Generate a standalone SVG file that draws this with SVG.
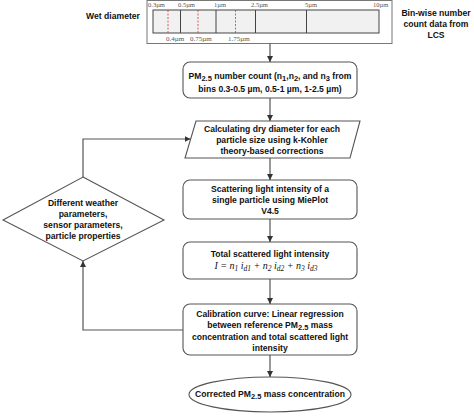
<svg xmlns="http://www.w3.org/2000/svg" width="474" height="418" viewBox="0 0 474 418">
<style>
.t{font-family:"Liberation Sans",Arial,sans-serif;font-weight:bold;font-size:8.6px;fill:#111;text-anchor:middle}
.s{font-size:7.5px}
.sc{font-family:"Liberation Serif","Times New Roman",serif;font-size:6.5px;fill:#555}
.box{fill:#fff;stroke:#555;stroke-width:1.1}
.ln{fill:none;stroke:#555;stroke-width:1.2}
.red{stroke:#d33;stroke-width:0.8;stroke-dasharray:2,1.5}
.f{font-family:"Liberation Serif","Times New Roman",serif;font-style:italic;font-weight:normal;font-size:10px;fill:#111;text-anchor:middle}
.fs{font-size:7.5px}
</style>
<defs>
<marker id="ah" markerUnits="userSpaceOnUse" markerWidth="6" markerHeight="6" refX="6" refY="3" orient="auto">
<path d="M0,0 L6,3 L0,6 z" fill="#333"/>
</marker>
</defs>
<rect width="474" height="418" fill="#fff"/>

<g id="bins">
<rect x="147" y="0.5" width="245" height="43" fill="#fff" stroke="#777" stroke-width="1"/>
<rect x="153" y="10" width="226" height="23" fill="#f1f1f1" stroke="#444" stroke-width="1"/>
<line x1="180.5" y1="10" x2="180.5" y2="33" stroke="#444"/>
<line x1="216" y1="10" x2="216" y2="33" stroke="#444"/>
<line x1="255.5" y1="10" x2="255.5" y2="33" stroke="#444"/>
<line x1="306.5" y1="10" x2="306.5" y2="33" stroke="#444"/>
<line class="red" x1="168" y1="10" x2="168" y2="33"/>
<line class="red" x1="198" y1="10" x2="198" y2="33"/>
<line class="red" x1="235.5" y1="10" x2="235.5" y2="33"/>
<text class="sc" x="148" y="7">0.3µm</text>
<text class="sc" x="178" y="7">0.5µm</text>
<text class="sc" x="214" y="7">1µm</text>
<text class="sc" x="251" y="7">2.5µm</text>
<text class="sc" x="305" y="7">5µm</text>
<text class="sc" x="373" y="7">10µm</text>
<text class="sc" x="166" y="41" style="font-size:7px">0.4µm</text>
<text class="sc" x="190" y="41" style="font-size:7px">0.75µm</text>
<text class="sc" x="228" y="41" style="font-size:7px">1.75µm</text>
</g>
<g id="wet"><text class="t" x="113" y="19">Wet diameter</text></g>
<g id="binwise">
<text class="t" x="436" y="16">Bin-wise number</text>
<text class="t" x="436" y="27">count data from</text>
<text class="t" x="436" y="38">LCS</text>
</g>

<g id="n1">
<rect class="box" x="183" y="62" width="174" height="36" rx="7"/>
<text class="t" x="270" y="79">PM<tspan class="s" dy="2">2.5</tspan><tspan dy="-2"> number count (n</tspan><tspan class="s" dy="2">1</tspan><tspan dy="-2">,n</tspan><tspan class="s" dy="2">2</tspan><tspan dy="-2">, and n</tspan><tspan class="s" dy="2">3</tspan><tspan dy="-2"> from</tspan></text>
<text class="t" x="270" y="92">bins 0.3-0.5 µm, 0.5-1 µm, 1-2.5 µm)</text>
</g>

<g id="n2">
<path class="box" d="M196,121 L360,121 L350,158 L185,158 z"/>
<text class="t" x="272" y="132">Calculating dry diameter for each</text>
<text class="t" x="272" y="143">particle size using k-Kohler</text>
<text class="t" x="272" y="154">theory-based corrections</text>
</g>

<g id="n3">
<rect class="box" x="183" y="180" width="174" height="39" rx="7"/>
<text class="t" x="270" y="192">Scattering light intensity of a</text>
<text class="t" x="270" y="203">single particle using MiePlot</text>
<text class="t" x="270" y="214">V4.5</text>
</g>

<g id="n4">
<rect class="box" x="183" y="242" width="174" height="37" rx="7"/>
<text class="t" x="270" y="257">Total scattered light intensity</text>
<text class="f" x="266" y="269">I = n<tspan class="fs" dy="2">1</tspan><tspan dy="-2"> i</tspan><tspan class="fs" dy="2">d1</tspan><tspan dy="-2"> + n</tspan><tspan class="fs" dy="2">2</tspan><tspan dy="-2"> i</tspan><tspan class="fs" dy="2">d2</tspan><tspan dy="-2"> + n</tspan><tspan class="fs" dy="2">3</tspan><tspan dy="-2"> i</tspan><tspan class="fs" dy="2">d3</tspan></text>
</g>

<g id="n5">
<rect class="box" x="183" y="304" width="174" height="51" rx="7"/>
<text class="t" x="270" y="317">Calibration curve: Linear regression</text>
<text class="t" x="270" y="328">between reference PM<tspan class="s" dy="2">2.5</tspan><tspan dy="-2"> mass</tspan></text>
<text class="t" x="270" y="340">concentration and total scattered light</text>
<text class="t" x="270" y="351">intensity</text>
</g>

<g id="n6">
<ellipse class="box" cx="270" cy="394.5" rx="81" ry="17.5"/>
<text class="t" x="270" y="397">Corrected PM<tspan class="s" dy="2">2.5</tspan><tspan dy="-2"> mass concentration</tspan></text>
</g>

<g id="n7">
<path class="box" d="M83,177 L164,220 L83,261 L3,220 z"/>
<text class="t" x="83" y="206">Different weather</text>
<text class="t" x="83" y="217">parameters,</text>
<text class="t" x="83" y="228">sensor parameters,</text>
<text class="t" x="83" y="239">particle properties</text>
</g>

<g id="connectors">
<path class="ln" d="M270,43.5 V62" marker-end="url(#ah)"/>
<path class="ln" d="M270,98 V121" marker-end="url(#ah)"/>
<path class="ln" d="M270,158 V180" marker-end="url(#ah)"/>
<path class="ln" d="M270,219 V242" marker-end="url(#ah)"/>
<path class="ln" d="M270,279 V304" marker-end="url(#ah)"/>
<path class="ln" d="M270,355 V377" marker-end="url(#ah)"/>
<path class="ln" d="M83,177 V139 H190.5" marker-end="url(#ah)"/>
<path class="ln" d="M183,330 H83 V261" marker-end="url(#ah)"/>
</g>
</svg>
